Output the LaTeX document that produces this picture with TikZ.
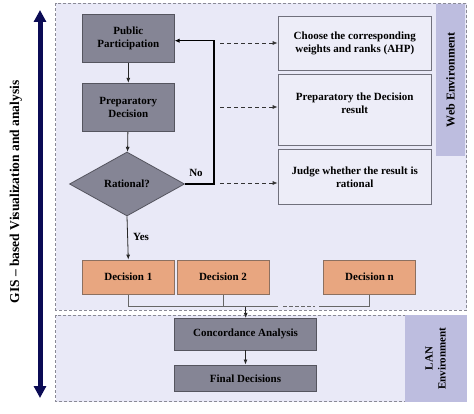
\documentclass[tikz,border=0pt]{standalone}
\usepackage{fontspec}
\setmainfont{Liberation Serif}
\usetikzlibrary{arrows.meta,shapes.geometric}
\definecolor{envfill}{HTML}{E9E9F7}
\definecolor{envline}{HTML}{8A8A96}
\definecolor{labfill}{HTML}{BDBDDF}
\definecolor{grayfill}{HTML}{858595}
\definecolor{grayline}{HTML}{55555F}
\definecolor{orangefill}{HTML}{E8A680}
\definecolor{orangeline}{HTML}{8C7060}
\definecolor{wbfill}{HTML}{EDEDF8}
\definecolor{wbline}{HTML}{70707C}
\definecolor{navy}{HTML}{0B0B55}
\tikzset{
  boxfont/.style={font=\bfseries\fontsize{11}{13}\selectfont},
  envbox/.style={draw=envline, fill=envfill, densely dashed, line width=0.6pt},
  labbox/.style={fill=labfill, draw=none},
  graybox/.style={draw=grayline, fill=grayfill, line width=0.8pt, boxfont, align=center, inner sep=0pt},
  orangebox/.style={draw=orangeline, fill=orangefill, line width=0.8pt, boxfont, align=center, inner sep=0pt},
  whitebox/.style={draw=wbline, fill=wbfill, line width=0.8pt, boxfont, align=center, inner sep=0pt},
  flow/.style={draw=black!85, line width=0.8pt, -{Latex[length=5pt,width=4pt]}},
  dflow/.style={draw=black!80, line width=0.8pt, dashed, dash pattern=on 4pt off 3pt, -{Latex[length=5pt,width=4pt]}},
  bracket/.style={draw=gray!80!black, line width=0.8pt},
  lbl/.style={boxfont}
}
\begin{document}
\begin{tikzpicture}[x=1pt,y=-1pt]
\useasboundingbox (0,0) rectangle (474,414);
% environments
\draw[envbox] (55.7,3.3) rectangle (466.7,310);
\draw[envbox] (55.7,315) rectangle (466.7,401.7);
\node[labbox, minimum width=29.5pt, minimum height=152.5pt, anchor=north west, inner sep=0pt] (weblab) at (435.7,3.5) {};
\node[rotate=90, font=\bfseries\fontsize{12}{14}\selectfont] (webtxt) at (weblab.center) {Web Environment};
\node[labbox, minimum width=62pt, minimum height=86.5pt, anchor=north west, inner sep=0pt] (lanlab) at (404.3,315.2) {};
\node[lbl, rotate=90, align=center] (lantxt) at (lanlab.center) {LAN\\Environment};
% left arrow and label
\coordinate (gtop) at (40,10);
\coordinate (gbot) at (40,398);
\draw[navy, line width=5pt, {Triangle[length=12pt,width=12pt]}-{Triangle[length=12pt,width=12pt]}] (gtop) -- (gbot);
\node[rotate=90, font=\bfseries\fontsize{13.5}{15}\selectfont] (gis) at (16,192) {GIS -- based Visualization and analysis};
% main flow
\node[graybox, minimum width=92pt, minimum height=48.3pt] (pp) at (128.3,38.2) {Public\\Participation};
\node[graybox, minimum width=92pt, minimum height=48.4pt] (pd) at (128.3,107.5) {Preparatory\\Decision};
\node[diamond, aspect=1.8, draw=grayline, fill=grayfill, line width=0.8pt, minimum width=115pt, minimum height=64pt, inner sep=0pt, boxfont] (rat) at (127,184) {Rational?};
\draw[flow] (pp) -- (pd);
\draw[flow] (pd) -- (rat);
\coordinate (nocorner1) at (214,184);
\coordinate (nocorner2) at (214,40.7);
\draw[draw=black, line width=1.1pt, -{Latex[length=5pt,width=4.5pt]}] (rat.east) -- (nocorner1) -- (nocorner2) -- (pp.east |- nocorner2);
\node[lbl] (no) at (196,172.5) {No};
% right boxes
\node[whitebox, minimum width=153.3pt, minimum height=54.3pt, anchor=north west] (w1) at (277.7,15.7) {Choose the corresponding\\weights and ranks (AHP)};
\node[whitebox, minimum width=153.3pt, minimum height=71pt, anchor=north west] (w2) at (277.7,74) {};
\node[boxfont, align=center, anchor=north, inner sep=0pt] (w2t) at ([yshift=-19pt]w2.north) {Preparatory the Decision\\result};
\node[whitebox, minimum width=153.3pt, minimum height=55.3pt, anchor=north west] (w3) at (277.7,149) {Judge whether the result is\\rational};
\coordinate (d1s) at (220,43);
\coordinate (d2s) at (220,107);
\coordinate (d3s) at (220,183);
\draw[dflow] (d1s) -- (w1.west |- d1s);
\draw[dflow] (d2s) -- (w2.west |- d2s);
\draw[dflow] (d3s) -- (w3.west |- d3s);
% decisions
\node[orangebox, minimum width=92pt, minimum height=34.3pt] (dec1) at (128.3,277.2) {Decision 1};
\node[orangebox, minimum width=92pt, minimum height=34.3pt] (dec2) at (223,277.2) {Decision 2};
\node[orangebox, minimum width=92.4pt, minimum height=34.3pt] (decn) at (369.5,277.2) {Decision n};
\draw[flow] (rat.south) -- (dec1.north);
\node[lbl] (yes) at (141,237) {Yes};
\coordinate (hy) at (0,306.7);
\coordinate (hmid) at (245.7,306.7);
\coordinate (ha) at (278,306.7);
\coordinate (hb) at (283,306.7);
\coordinate (hc) at (315,306.7);
\coordinate (hd) at (319,306.7);
\draw[bracket] (dec1.south) -- (dec1.south |- hy) -- (ha);
\draw[bracket] (dec2.south) -- (dec2.south |- hy);
\draw[bracket] (decn.south) -- (decn.south |- hy) -- (hd);
\draw[bracket, dash pattern=on 4pt off 2pt] (hb) -- (hc);
% LAN flow
\node[graybox, minimum width=142.4pt, minimum height=31.7pt] (conc) at (245.5,334.2) {Concordance Analysis};
\node[graybox, minimum width=142.4pt, minimum height=26.7pt] (fin) at (245.5,378.3) {Final Decisions};
\draw[flow] (hmid) -- (conc.north -| hmid);
\draw[flow] (conc) -- (fin);
\end{tikzpicture}
\end{document}
